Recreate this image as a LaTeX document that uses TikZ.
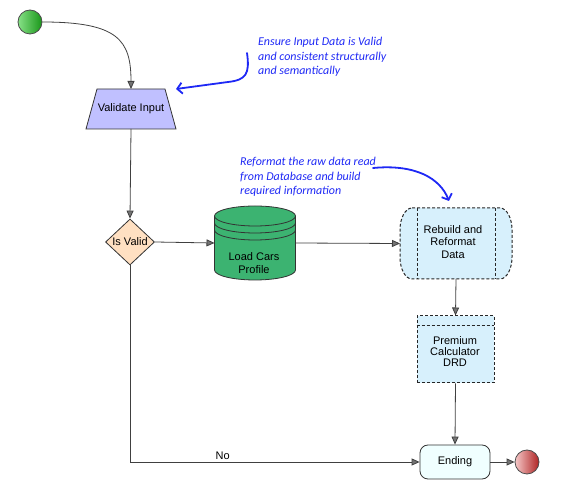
\documentclass[tikz,border=0pt]{standalone}
\usepackage{fontspec}
\setmainfont{Liberation Sans}
\newfontfamily\notefont{Carlito}
\usetikzlibrary{shapes.geometric,arrows.meta}
\definecolor{valfill}{RGB}{192,192,255}
\definecolor{peach}{RGB}{255,224,194}
\definecolor{cylgreen}{RGB}{60,179,113}
\definecolor{cyanfill}{RGB}{215,240,252}
\definecolor{azurefill}{RGB}{240,255,255}
\definecolor{noteblue}{RGB}{30,40,245}
\definecolor{startl}{RGB}{135,225,135}
\definecolor{startd}{RGB}{25,150,25}
\definecolor{endl}{RGB}{245,200,200}
\definecolor{endd}{RGB}{175,35,35}
\definecolor{linegray}{RGB}{64,64,64}
\begin{document}
\begin{tikzpicture}[x=1pt,y=1pt,
  every node/.style={font=\fontsize{11}{12.5}\selectfont, text=black},
  conn/.style={draw=linegray, line width=0.8pt, -{Triangle[length=8pt,width=7pt,fill=black!55]}},
  outline/.style={draw=black!80, line width=0.8pt},
  dashedline/.style={draw=black!85, line width=1pt, dash pattern=on 3pt off 2pt},
  hidden/.style={inner sep=0, outer sep=0},
  note/.style={text=noteblue, font=\notefont\itshape\fontsize{12}{14.5}\selectfont, align=left, anchor=north west, inner sep=0},
  notearrow/.style={draw=noteblue, line width=1.8pt, line cap=round, -{Straight Barb[length=5pt,width=11pt,line width=1.8pt]}},
  terminal/.style={circle, minimum size=24pt, inner sep=0, draw=black!70, line width=0.8pt}
]
\useasboundingbox (0,0) rectangle (571,-502);

% start / end circles
\node[terminal, left color=startl, right color=startd] (start) at (30,-22) {};
\node[terminal, left color=endl, right color=endd] (endc) at (527,-462) {};

% Validate Input (trapezium)
\draw[outline, fill=valfill] (97,-89) -- (165,-89) -- (176,-129) -- (86,-129) -- cycle;
\node[hidden, minimum width=90pt, minimum height=40pt] (validate) at (131,-109) {Validate Input};

% Is Valid
\node[diamond, outline, fill=peach, minimum width=49pt, minimum height=46pt, inner sep=0, aspect=1.06] (valid) at (130,-242) {Is Valid};

% Load Cars Profile (cylinder)
\fill[cylgreen] (214.5,-216) -- (214.5,-270) arc[start angle=180,end angle=360,x radius=40.5,y radius=10] -- (295.5,-216) arc[start angle=0,end angle=180,x radius=40.5,y radius=10] -- cycle;
\draw[outline] (214.5,-216) -- (214.5,-270) arc[start angle=180,end angle=360,x radius=40.5,y radius=10] -- (295.5,-216);
\draw[outline] (255,-216) ellipse[x radius=40.5, y radius=10];
\draw[outline] (214.5,-223) arc[start angle=180,end angle=360,x radius=40.5,y radius=10];
\draw[outline] (214.5,-230) arc[start angle=180,end angle=360,x radius=40.5,y radius=10];
\node[hidden, minimum width=81pt, minimum height=74pt] (load) at (255,-243) {};
\node[align=center, inner sep=0] (loadtxt) at (254,-263) {Load Cars\\Profile};

% Rebuild and Reformat Data
\draw[dashedline, fill=cyanfill] (412,-208) -- (500,-208)
  arc[start angle=90,end angle=0,x radius=12,y radius=22] -- (512,-257)
  arc[start angle=0,end angle=-90,x radius=12,y radius=22] -- (412,-279)
  arc[start angle=270,end angle=180,x radius=12,y radius=22] -- (400,-230)
  arc[start angle=180,end angle=90,x radius=12,y radius=22] -- cycle;
\draw[dashedline] (417,-208) -- (417,-279);
\draw[dashedline] (495,-208) -- (495,-279);
\node[hidden, minimum width=112pt, minimum height=71pt] (rebuild) at (456,-243.5) {};
\node[align=center, inner sep=0] (rebuildtxt) at (453,-242) {Rebuild and\\Reformat\\Data};

% Premium Calculator DRD
\node[dashedline, fill=cyanfill, minimum width=77pt, minimum height=67pt, inner sep=0] (premium) at (455.5,-349.5) {};
\draw[dashedline] (premium.north west) ++(0,-10) -- ++(77,0);
\node[align=center, inner sep=0, font=\fontsize{11}{11}\selectfont] (premtxt) at (455,-352) {Premium\\Calculator\\DRD};

% Ending
\node[outline, rounded corners=8pt, fill=azurefill, minimum width=70pt, minimum height=34pt] (ending) at (455,-462) {Ending};

% connectors
\draw[conn] (start.east) .. controls (118,-22) and (131,-40) .. (validate.north);
\draw[conn] (validate.south) -- (valid.north);
\draw[conn] (valid.east) -- (load.west);
\draw[conn] (load.east) -- (rebuild.west);
\draw[conn] (rebuild.south) -- (premium.north);
\draw[conn] (premium.south) -- (ending.north);
\draw[conn] (ending.east) -- (endc.west);
\draw[conn] (valid.south) |- (ending.west) node[pos=0.66, above, inner sep=2pt] {No};

% notes
\node[note] (note1) at (258,-37) {Ensure Input Data is Valid\\and consistent structurally\\and semantically};
\node[note] (note2) at (240,-157) {Reformat the raw data read\\from Database and build\\required information};
\coordinate (n1s) at (247,-53);
\coordinate (n1e) at (176,-89);
\coordinate (n2s) at (373,-168);
\coordinate (n2e) at (449,-201);
\draw[notearrow] (n1s) .. controls (250,-74) and (246,-80) .. (228,-82) -- (n1e);
\draw[notearrow] (n2s) .. controls (415,-164) and (440,-178) .. (n2e);
\end{tikzpicture}
\end{document}
